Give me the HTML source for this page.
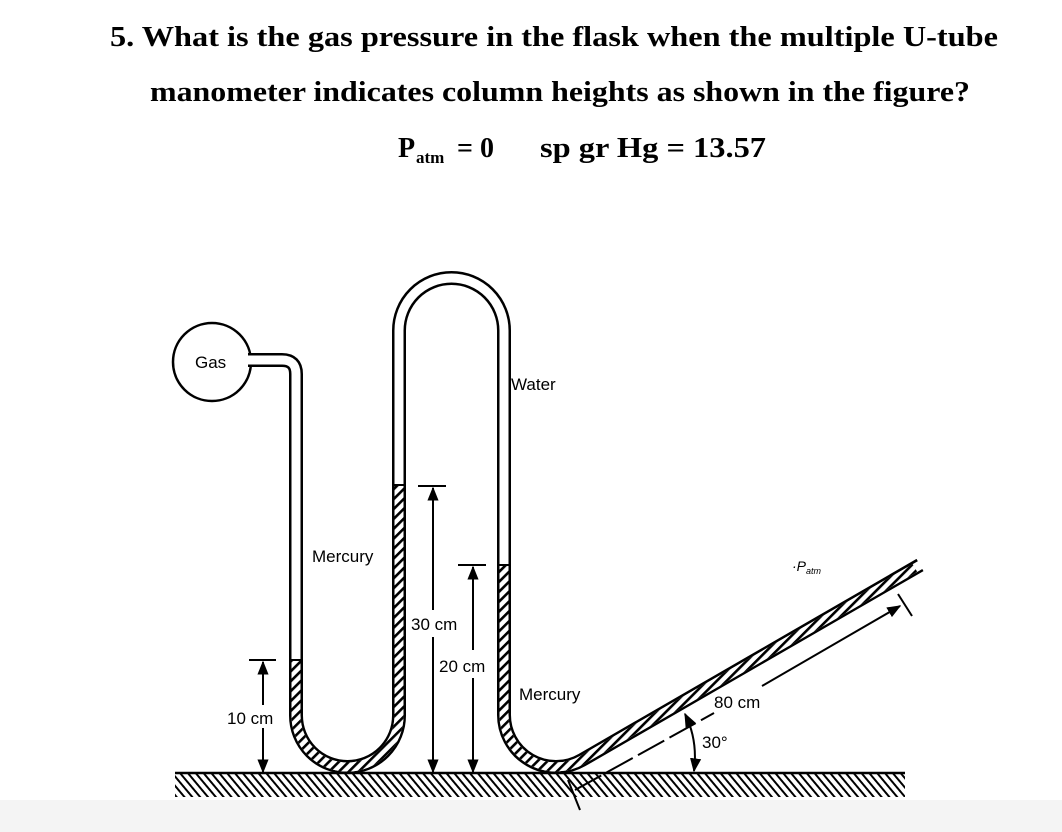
<!DOCTYPE html>
<html><head><meta charset="utf-8"><style>
html,body{margin:0;padding:0;background:#fff;}
svg{display:block;}
</style></head><body>
<svg width="1062" height="832" viewBox="0 0 1062 832" xmlns="http://www.w3.org/2000/svg">
<defs>
<pattern id="hatch" patternUnits="userSpaceOnUse" width="7" height="7" patternTransform="rotate(45)">
<rect width="7" height="7" fill="#fff"/><rect x="0" y="0" width="2.6" height="7" fill="#000"/>
</pattern>
<pattern id="ghatch" patternUnits="userSpaceOnUse" width="6" height="6" patternTransform="rotate(-40)">
<rect width="6" height="6" fill="#fff"/><rect x="0" y="0" width="2" height="6" fill="#000"/>
</pattern>
<marker id="ar" viewBox="0 0 10 10" refX="9" refY="5" markerWidth="7" markerHeight="7" orient="auto-start-reverse"><path d="M0,1 L10,5 L0,9 z" fill="#000"/></marker>
</defs>
<rect x="0" y="800" width="1062" height="32" fill="#f4f4f4"/>
<g font-family="Liberation Serif, serif" font-weight="bold" fill="#000">
<text x="110" y="46" font-size="28" textLength="888" lengthAdjust="spacingAndGlyphs">5. What is the gas pressure in the flask when the multiple U-tube</text>
<text x="150" y="101" font-size="28" textLength="820" lengthAdjust="spacingAndGlyphs">manometer indicates column heights as shown in the figure?</text>
<text x="398" y="157" font-size="28">P</text>
<text x="416" y="163" font-size="17">atm</text>
<text x="457" y="157" font-size="28">= 0</text>
<text x="540" y="157" font-size="28" textLength="226" lengthAdjust="spacingAndGlyphs">sp gr Hg = 13.57</text>
</g>
<rect x="175" y="774" width="730" height="23" fill="url(#ghatch)"/>
<line x1="175" y1="773" x2="905" y2="773" stroke="#000" stroke-width="2.5"/>
<circle cx="212" cy="362" r="39" fill="#fff" stroke="#000" stroke-width="2.5"/>
<text x="195" y="368" font-family="Liberation Sans, sans-serif" font-size="17">Gas</text>
<path d="M248,360 L282,360 Q296,360 296,374 L296,715.5 A51.5,51.5 0 0 0 399,715.5 L399,330.5 A52.5,52.5 0 0 1 504,330.5 L504,715 A52,52 0 0 0 582,760 L920,565" fill="none" stroke="#000" stroke-width="14"/>
<path d="M248,360 L282,360 Q296,360 296,374 L296,715.5 A51.5,51.5 0 0 0 399,715.5 L399,330.5 A52.5,52.5 0 0 1 504,330.5 L504,715 A52,52 0 0 0 582,760 L922,564" fill="none" stroke="#fff" stroke-width="9"/>
<path d="M296,661 L296,715.5 A51.5,51.5 0 0 0 399,715.5 L399,486" fill="none" stroke="url(#hatch)" stroke-width="9"/>
<path d="M504,566 L504,715 A52,52 0 0 0 582,760 L915,568" fill="none" stroke="url(#hatch)" stroke-width="9"/>
<line x1="291" y1="660" x2="301" y2="660" stroke="#000" stroke-width="2"/>
<line x1="394" y1="485" x2="404" y2="485" stroke="#000" stroke-width="2"/>
<line x1="499" y1="565" x2="509" y2="565" stroke="#000" stroke-width="2"/>
<g stroke="#000" stroke-width="2" fill="none">
<line x1="249" y1="660" x2="276" y2="660"/>
<line x1="263" y1="662" x2="263" y2="705" marker-start="url(#ar)"/>
<line x1="263" y1="728" x2="263" y2="772" marker-end="url(#ar)"/>
<line x1="418" y1="486" x2="446" y2="486"/>
<line x1="433" y1="488" x2="433" y2="610" marker-start="url(#ar)"/>
<line x1="433" y1="637" x2="433" y2="772" marker-end="url(#ar)"/>
<line x1="458" y1="565" x2="486" y2="565"/>
<line x1="473" y1="567" x2="473" y2="650" marker-start="url(#ar)"/>
<line x1="473" y1="678" x2="473" y2="772" marker-end="url(#ar)"/>
<line x1="762" y1="686" x2="900" y2="606" marker-end="url(#ar)"/>
<line x1="898" y1="594" x2="912" y2="616"/>
<line x1="575" y1="790" x2="714" y2="713" stroke-dasharray="30,6"/>
<line x1="568" y1="780" x2="580" y2="810"/>
<path d="M685,714 Q698,740 694,771" marker-start="url(#ar)" marker-end="url(#ar)"/>
</g>
<g font-family="Liberation Sans, sans-serif" font-size="17" fill="#000">
<text x="227" y="724">10 cm</text>
<text x="411" y="630">30 cm</text>
<text x="439" y="672">20 cm</text>
<text x="312" y="562">Mercury</text>
<text x="519" y="700">Mercury</text>
<text x="511" y="390">Water</text>
<text x="714" y="708">80 cm</text>
<text x="702" y="748">30°</text>
<text x="792" y="571" font-size="14" font-style="italic">·P<tspan font-size="9" dy="3">atm</tspan></text>
</g>
</svg>
</body></html>
